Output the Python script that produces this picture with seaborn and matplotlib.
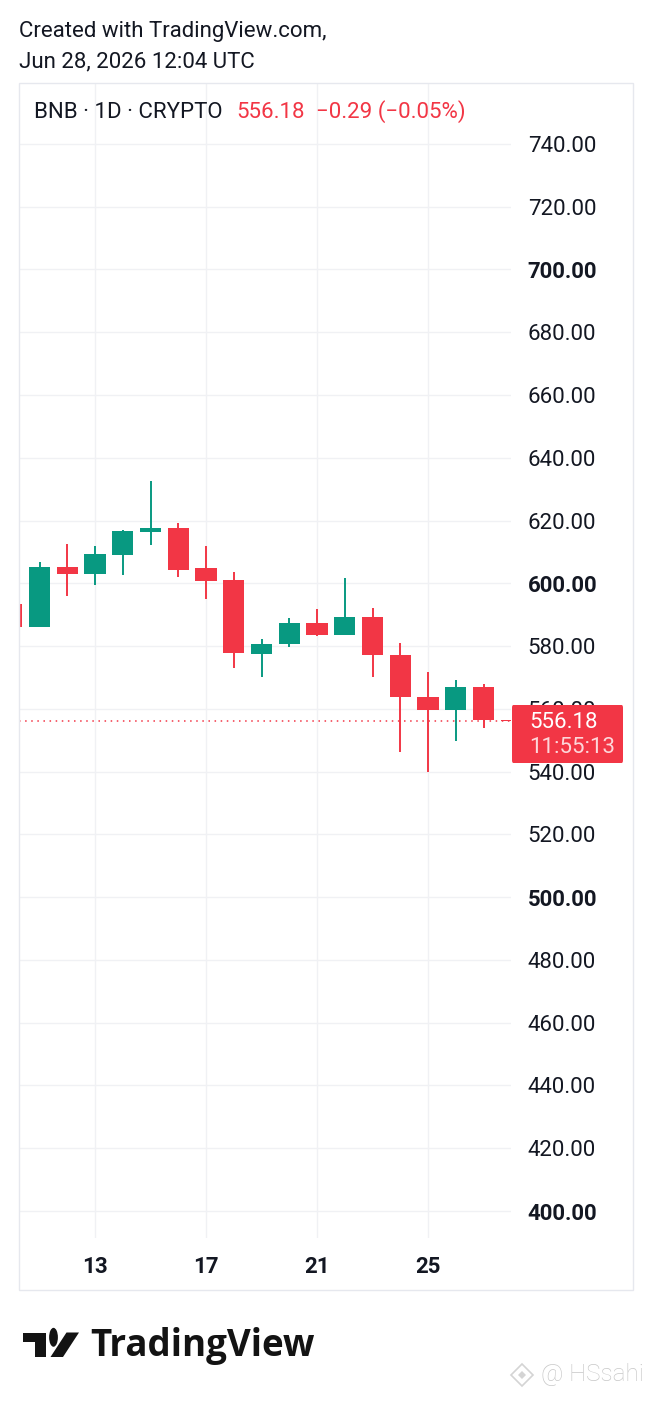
import matplotlib
matplotlib.use("Agg")
import matplotlib.pyplot as plt
from matplotlib.patches import Rectangle, FancyBboxPatch, Circle, Polygon
import numpy as np
import pandas as pd
import seaborn as sns

# daily candles, BNB / 1D
days = [10, 11, 12, 13, 14, 15, 16, 17, 18, 19, 20, 21, 22, 23, 24, 25, 26, 27, 28]
opens = [593.5, 586.0, 605.1, 602.9, 609.0, 616.3, 617.5, 604.8, 600.9, 577.6,
         580.5, 587.5, 583.4, 589.4, 577.3, 563.9, 559.5, 566.8, 556.47]
highs = [594.5, 606.7, 612.4, 611.8, 617.0, 632.5, 619.1, 611.8, 603.5, 582.4,
         588.8, 591.7, 601.6, 592.0, 581.1, 571.6, 569.3, 567.8, 556.6]
lows = [585.5, 586.0, 595.8, 599.3, 602.6, 612.2, 602.0, 595.0, 573.0, 570.3,
        579.6, 583.1, 583.4, 570.3, 546.1, 540.0, 549.6, 554.0, 556.0]
closes = [586.0, 605.1, 602.9, 609.2, 616.6, 617.5, 604.2, 600.7, 577.7, 580.8,
          587.5, 583.4, 589.4, 577.0, 563.7, 559.5, 566.8, 556.47, 556.18]

x_ticks = [13, 17, 21, 25]
y_ticks = [400, 420, 440, 460, 480, 500, 520, 540, 560, 580, 600, 620, 640, 660, 680, 700, 720, 740]
bold_ticks = [400, 500, 600, 700]

last_price = 556.18
GREEN = '#089981'
RED = '#F23645'
TXT = '#131722'
FS = 16

W, H = 652, 1404

sns.set_style('white')
plt.rcParams['font.family'] = ['Roboto', 'DejaVu Sans']


def fx(x):
    return x / W


def fy(y):
    return 1 - y / H


df = pd.DataFrame({'day': days, 'open': opens, 'high': highs, 'low': lows, 'close': closes})
df['up'] = df['close'] >= df['open']
df['color'] = np.where(df['up'], GREEN, RED)
df['bottom'] = df[['open', 'close']].min(axis=1)
df['height'] = (df['close'] - df['open']).abs().clip(lower=0.4)

fig = plt.figure(figsize=(W / 100, H / 100), dpi=100)
ax = fig.add_axes([fx(19), fy(1238), (511 - 19) / W, (1238 - 83) / H])

# wicks then bodies
ax.vlines(df['day'], df['low'], df['high'], colors=df['color'], linewidth=1.4, zorder=2)
ax.bar(df['day'], df['height'], bottom=df['bottom'], width=0.76, color=df['color'], linewidth=0, zorder=3)

# last price dotted line
ax.axhline(last_price, color=RED, linestyle=(0, (1, 3)), linewidth=1.1, zorder=1)

ax.set_xlim(10.26, 27.99)
ax.set_ylim(391.4, 759.4)

ax.yaxis.tick_right()
ax.set_xticks(x_ticks)
ax.set_xticklabels([str(d) for d in x_ticks], fontsize=FS, fontweight='bold', color=TXT)
ax.set_yticks(y_ticks)
ax.set_yticklabels([f'{v:.2f}' for v in y_ticks], fontsize=FS, color=TXT)
for tick, v in zip(ax.yaxis.get_major_ticks(), y_ticks):
    if v in bold_ticks:
        tick.label1.set_fontweight('bold')
        tick.label2.set_fontweight('bold')
ax.tick_params(axis='y', length=0, pad=12)
ax.tick_params(axis='x', length=0, pad=13)
ax.grid(True, color='#F0F1F4', linewidth=1)
for sp in ax.spines.values():
    sp.set_visible(False)

# outer frame
fig.patches.append(Rectangle((fx(19), fy(1290)), (633 - 19) / W, (1290 - 83) / H,
                             transform=fig.transFigure, fill=False, edgecolor='#E6E8EE', linewidth=1))

# header
fig.text(fx(19), fy(31), 'Created with TradingView.com,', fontsize=FS, color=TXT, va='center')
fig.text(fx(19), fy(62), 'Jun 28, 2026 12:04 UTC', fontsize=FS, color=TXT, va='center')
fig.text(fx(34), fy(112), 'BNB · 1D · CRYPTO', fontsize=FS, color=TXT, va='center')
fig.text(fx(236), fy(112), '556.18', fontsize=FS, color=RED, va='center')
fig.text(fx(316), fy(112), '\u22120.29 (\u22120.05%)', fontsize=FS, color=RED, va='center')

# price label box (drawn over the 560.00 label, as in the app)
fig.patches.append(FancyBboxPatch((fx(512), fy(763)), (623 - 512) / W, (763 - 705) / H,
                                  boxstyle='round,pad=0,rounding_size=0.002',
                                  transform=fig.transFigure, facecolor=RED, edgecolor='none'))
fig.text(fx(529), fy(722), f'{last_price:.2f}', fontsize=FS, color='white', va='center')
fig.text(fx(529), fy(748), '11:55:13', fontsize=FS, color='white', alpha=0.8, va='center')

# TradingView logo
logo = [
    Polygon([(fx(22.5), fy(1332.5)), (fx(45.5), fy(1332.5)), (fx(45.5), fy(1357)), (fx(34.5), fy(1357)),
             (fx(34.5), fy(1342)), (fx(22.5), fy(1342))], closed=True),
    Circle((fx(53.5), fy(1337.3)), 4.4 / W),
    Polygon([(fx(66.5), fy(1332.5)), (fx(79), fy(1332.5)), (fx(63), fy(1357)), (fx(50.5), fy(1357))], closed=True),
]
for p in logo:
    p.set_transform(fig.transFigure)
    p.set_facecolor('#131313')
    p.set_edgecolor('none')
    fig.patches.append(p)
fig.text(fx(90), fy(1356), 'TradingView', fontsize=26.5, fontweight='bold', color='#131313',
         va='baseline', family=['Open Sans', 'DejaVu Sans'])

# watermark
wm = [
    Polygon([(fx(522), fy(1364)), (fx(533), fy(1375)), (fx(522), fy(1386)), (fx(511), fy(1375))],
            closed=True, fill=False, edgecolor='#d4d4d4', linewidth=1.2),
    Polygon([(fx(522), fy(1371)), (fx(526), fy(1375)), (fx(522), fy(1379)), (fx(518), fy(1375))],
            closed=True, facecolor='#d4d4d4', edgecolor='none'),
]
for p in wm:
    p.set_transform(fig.transFigure)
    fig.patches.append(p)
fig.text(fx(541), fy(1375), '@ HSsahi', fontsize=17.5, color='#c8c8c8', va='center', fontweight='light')

fig.savefig('out.png', dpi=100, facecolor='white')
